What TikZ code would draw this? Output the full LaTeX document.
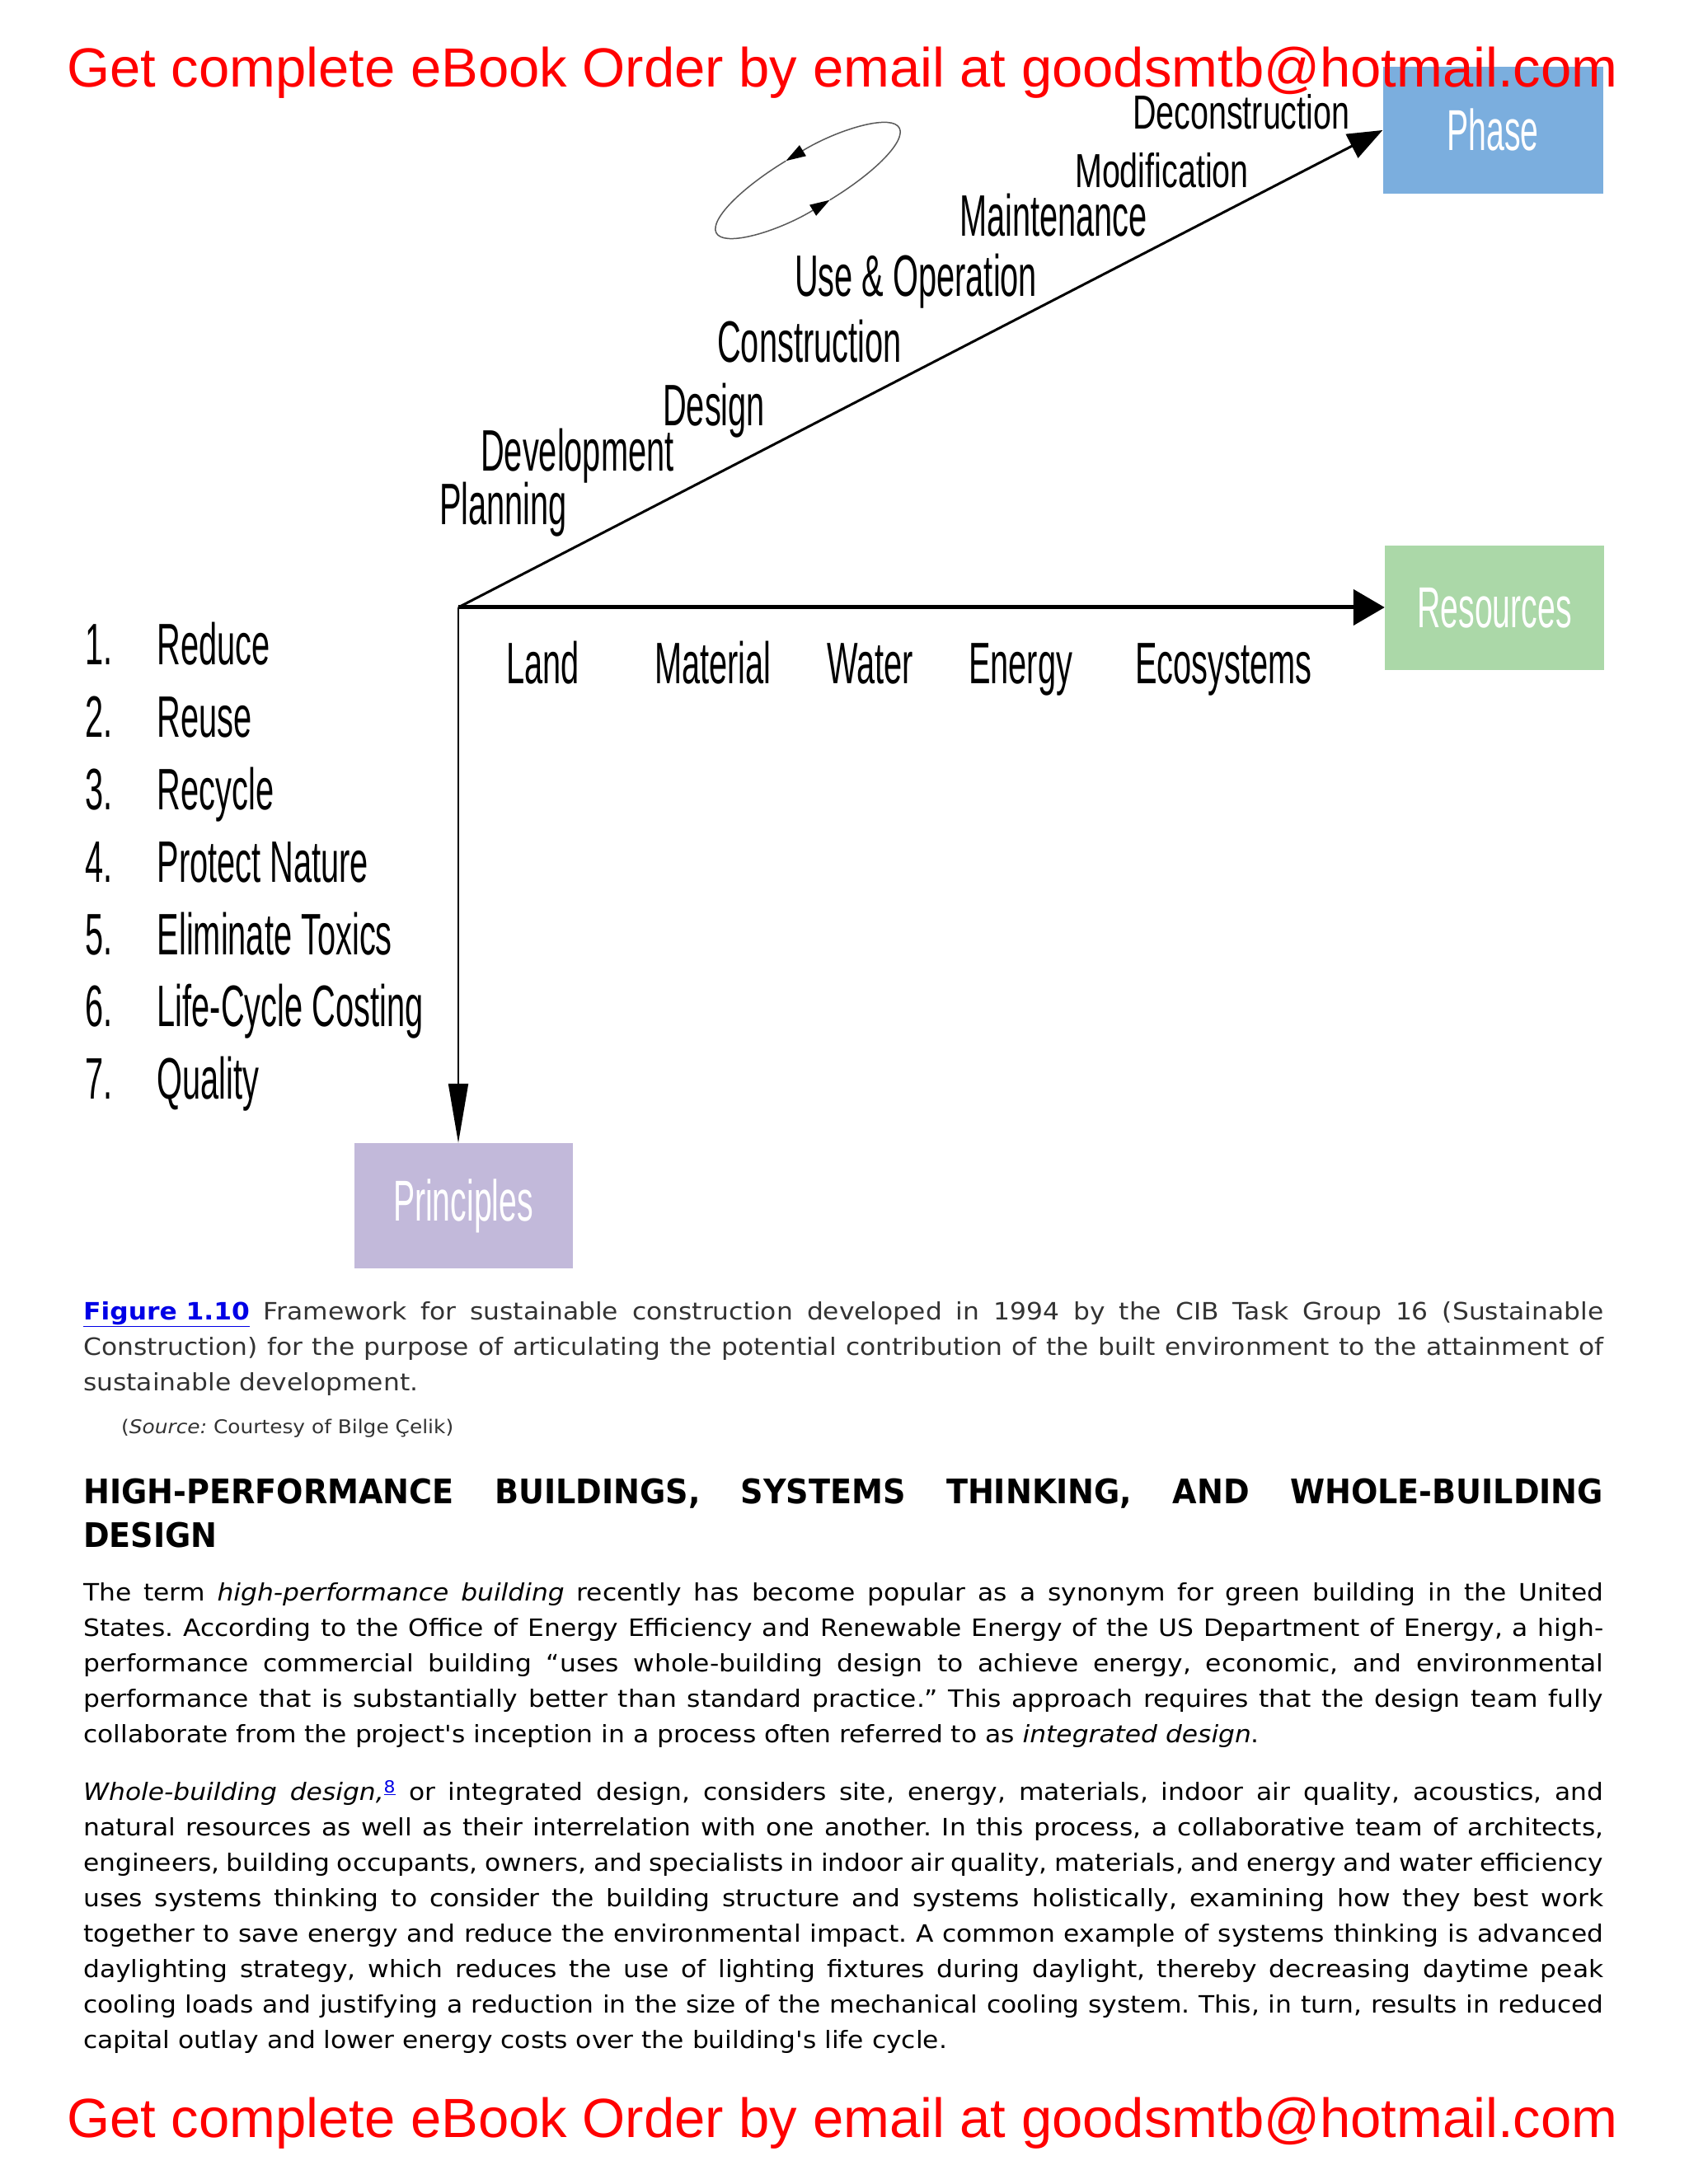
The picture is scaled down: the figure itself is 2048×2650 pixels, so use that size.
\documentclass[tikz,border=0pt]{standalone}
\usepackage{fontspec}
\setmainfont{DejaVu Sans}
\newfontfamily\wmfont{Liberation Sans}
\newfontfamily\axisfont[FakeStretch=0.56]{Liberation Sans}
\newfontfamily\phasefont[FakeStretch=0.68]{Liberation Sans}
\newfontfamily\bodyfont[FakeStretch=1.08]{DejaVu Sans}
\newfontfamily\headfont[FakeStretch=0.93]{DejaVu Sans}
\usetikzlibrary{arrows.meta,positioning}

\definecolor{phaseblue}{RGB}{123,174,222}
\definecolor{resgreen}{RGB}{171,216,168}
\definecolor{princlav}{RGB}{194,185,218}
\definecolor{linkblue}{RGB}{0,0,230}
\definecolor{capgray}{RGB}{51,51,51}
\newcommand{\jline}[1]{\makebox[1844pt][s]{#1}}
\frenchspacing

\begin{document}
\begin{tikzpicture}[
  x=1pt, y=1pt,
  box/.style={minimum width=266pt, minimum height=152pt, inner sep=0pt, text=white, font=\axisfont\fontsize{70}{76}\selectfont},
  lbl/.style={anchor=base west, inner sep=0pt, font=\axisfont\fontsize{71}{78}\selectfont},
  lblsmall/.style={anchor=base west, inner sep=0pt, font=\phasefont\fontsize{58}{64}\selectfont},
  bodytext/.style={anchor=base west, inner sep=0pt, font=\bodyfont\fontsize{29}{34}\selectfont},
  captext/.style={bodytext, text=capgray},
  headtext/.style={anchor=base west, inner sep=0pt, font=\headfont\bfseries\fontsize{41}{48}\selectfont},
  watermark/.style={anchor=base, inner sep=0pt, text=red, font=\wmfont\fontsize{67}{72}\selectfont},
  resarrow/.style={-{Triangle[length=38pt,width=43pt]}, line width=5pt},
  phasearrow/.style={-{Triangle[length=42pt,width=32pt]}, line width=3pt},
  princarrow/.style={-{Triangle[length=72pt,width=24pt]}, line width=2pt},
  looparrow/.style={-{Triangle[length=24pt,width=15pt,color=black]}, line width=1.5pt, gray!70!black}
]
\fill[white] (0,0) rectangle (2048,2650);
\useasboundingbox (0,0) rectangle (2048,2650);

% the three axes
\node[box, fill=phaseblue, minimum width=267pt, minimum height=154pt] (phase) at (1811,2492) {Phase};
\node[box, fill=resgreen, minimum height=151pt] (resources) at (1813,1912.5) {Resources};
\node[box, fill=princlav, minimum width=265pt] (principles) at (562,1187) {Principles};

\coordinate (origin) at (556,1913);
\draw[phasearrow] (origin) -- (phase.west);
\draw[resarrow] (origin) -- (origin -| resources.west);
\draw[princarrow] (origin) -- (origin |- principles.north);

% phase labels
\node[lbl] (planning) at (533,2013) {Planning};
\node[lbl] (development) at (583,2078) {Development};
\node[lbl] (design) at (804,2133) {Design};
\node[lbl] (construction) at (870,2210) {Construction};
\node[lbl] (useop) at (964,2290) {Use \& Operation};
\node[lbl] (maintenance) at (1164,2363) {Maintenance};
\node[lblsmall] (modification) at (1304,2422) {Modification};
\node[lblsmall] (deconstruction) at (1374,2493) {Deconstruction};

% life-cycle loop
\coordinate (loopc) at (980,2431);
\begin{scope}[shift={(loopc)}, rotate=30]
  \draw[looparrow] (-85:128 and 34) arc[start angle=-85, end angle=95, x radius=128, y radius=34];
  \draw[looparrow] (95:128 and 34) arc[start angle=95, end angle=275, x radius=128, y radius=34];
\end{scope}

% resource labels
\node[lbl] (land) at (614,1820) {Land};
\node[lbl] (material) at (794,1820) {Material};
\node[lbl] (water) at (1003,1820) {Water};
\node[lbl] (energy) at (1175,1820) {Energy};
\node[lbl] (ecosystems) at (1377,1820) {Ecosystems};

% principles list
\node[lbl] (n1) at (103,1843) {1.};
\node[lbl, base right=54pt of n1] (reduce) {Reduce};
\node[lbl] (n2) at (103,1755) {2.};
\node[lbl, base right=54pt of n2] (reuse) {Reuse};
\node[lbl] (n3) at (103,1667) {3.};
\node[lbl, base right=54pt of n3] (recycle) {Recycle};
\node[lbl] (n4) at (103,1579) {4.};
\node[lbl, base right=54pt of n4] (protect) {Protect Nature};
\node[lbl] (n5) at (103,1491) {5.};
\node[lbl, base right=54pt of n5] (eliminate) {Eliminate Toxics};
\node[lbl] (n6) at (103,1404) {6.};
\node[lbl, base right=54pt of n6] (lifecycle) {Life-Cycle Costing};
\node[lbl] (n7) at (103,1316) {7.};
\node[lbl, base right=54pt of n7] (quality) {Quality};

% caption
\node[captext] (cap1) at (101,1048) {\jline{\textcolor{linkblue}{\bfseries\underline{Figure 1.10}} Framework for sustainable construction developed in 1994 by the CIB Task Group 16 (Sustainable}};
\node[captext] (cap2) at (101,1005) {\jline{Construction) for the purpose of articulating the potential contribution of the built environment to the attainment of}};
\node[captext] (cap3) at (101,962) {sustainable development.};
\node[captext, font=\bodyfont\fontsize{23}{28}\selectfont] (source) at (147,910) {({\itshape Source:} Courtesy of Bilge Çelik)};

% section text
\node[headtext] (head1) at (101,825) {\jline{HIGH-PERFORMANCE BUILDINGS, SYSTEMS THINKING, AND WHOLE-BUILDING}};
\node[headtext] (head2) at (101,772) {DESIGN};

\node[bodytext] (pa1) at (101,707) {\jline{The term {\itshape high-performance building} recently has become popular as a synonym for green building in the United}};
\node[bodytext] (pa2) at (101,664) {\jline{States. According to the Office of Energy Efficiency and Renewable Energy of the US Department of Energy, a high-}};
\node[bodytext] (pa3) at (101,621) {\jline{performance commercial building “uses whole-building design to achieve energy, economic, and environmental}};
\node[bodytext] (pa4) at (101,578) {\jline{performance that is substantially better than standard practice.” This approach requires that the design team fully}};
\node[bodytext] (pa5) at (101,535) {collaborate from the project's inception in a process often referred to as {\itshape integrated design}.};

\node[bodytext] (pb1) at (101,465) {\jline{{\itshape Whole-building design,}\textsuperscript{\textcolor{linkblue}{\underline{8}}} or integrated design, considers site, energy, materials, indoor air quality, acoustics, and}};
\node[bodytext] (pb2) at (101,422) {\jline{natural resources as well as their interrelation with one another. In this process, a collaborative team of architects,}};
\node[bodytext] (pb3) at (101,379) {\jline{engineers, building occupants, owners, and specialists in indoor air quality, materials, and energy and water efficiency}};
\node[bodytext] (pb4) at (101,336) {\jline{uses systems thinking to consider the building structure and systems holistically, examining how they best work}};
\node[bodytext] (pb5) at (101,293) {\jline{together to save energy and reduce the environmental impact. A common example of systems thinking is advanced}};
\node[bodytext] (pb6) at (101,250) {\jline{daylighting strategy, which reduces the use of lighting fixtures during daylight, thereby decreasing daytime peak}};
\node[bodytext] (pb7) at (101,207) {\jline{cooling loads and justifying a reduction in the size of the mechanical cooling system. This, in turn, results in reduced}};
\node[bodytext] (pb8) at (101,164) {capital outlay and lower energy costs over the building's life cycle.};

% watermarks
\node[watermark] (wmtop) at (1022,2544) {Get complete eBook Order by email at goodsmtb@hotmail.com};
\node[watermark] (wmbottom) at (1022,56) {Get complete eBook Order by email at goodsmtb@hotmail.com};

\end{tikzpicture}
\end{document}
